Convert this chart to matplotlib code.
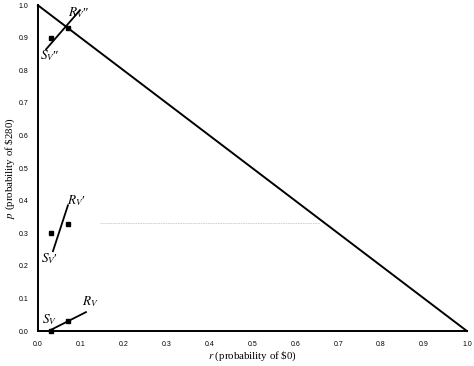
import matplotlib
matplotlib.use("Agg")
import matplotlib.pyplot as plt

plt.rcParams['mathtext.fontset'] = 'stix'

# Data
ticks = [0.0, 0.1, 0.2, 0.3, 0.4, 0.5, 0.6, 0.7, 0.8, 0.9, 1.0]
tick_labels = ["0.0", "0.1", "0.2", "0.3", "0.4", "0.5", "0.6", "0.7", "0.8", "0.9", "1.0"]
hyp_r = [0.0, 1.0]
hyp_p = [1.0, 0.0]
safe_r = [0.03, 0.03, 0.03]
safe_p = [0.0, 0.30, 0.90]
risky_r = [0.07, 0.07, 0.07]
risky_p = [0.03, 0.33, 0.93]
seg_r = [[0.025, 0.112], [0.035, 0.070], [0.019, 0.098]]
seg_p = [[0.0, 0.058], [0.245, 0.386], [0.865, 0.985]]
guide_r = [0.145, 0.657]
guide_p = [0.333, 0.333]
labels = ["$S_V$", "$R_V$", "$S_V$\u2032", "$R_V$\u2032", "$S_V$\u2033", "$R_V$\u2033"]
label_r = [0.026, 0.121, 0.026, 0.089, 0.027, 0.096]
label_p = [0.034, 0.089, 0.222, 0.40, 0.845, 0.979]

fig = plt.figure(figsize=(4.74, 3.66), dpi=100)
ax = fig.add_axes([0.080, 0.0956, 0.905, 0.89])
ax.set_xlim(0, 1)
ax.set_ylim(0, 1)
for s in ['top', 'right']:
    ax.spines[s].set_visible(False)
for s in ['left', 'bottom']:
    ax.spines[s].set_linewidth(1.4)

ax.plot(hyp_r, hyp_p, color='black', lw=1.4, clip_on=False)
ax.plot(guide_r, guide_p, color='#cccccc', lw=0.6, ls=(0, (2, 1)))
for r, p in zip(seg_r, seg_p):
    ax.plot(r, p, color='black', lw=1.3, clip_on=False)
ax.plot(safe_r, safe_p, 's', color='black', ms=3.5, clip_on=False)
ax.plot(risky_r, risky_p, 's', color='black', ms=3.5, clip_on=False)
for t, r, p in zip(labels, label_r, label_p):
    ax.text(r, p, t, fontsize=9.5, family='Liberation Serif', ha='center', va='center')

ax.set_xticks(ticks)
ax.set_xticklabels(tick_labels, fontsize=5, family='Liberation Sans')
ax.set_yticks(ticks)
ax.set_yticklabels(tick_labels, fontsize=5, family='Liberation Sans')
ax.tick_params(length=0, pad=7)
ax.set_xlabel(r"$r$ (probability of \$0)", fontsize=7.8, family='Liberation Serif', labelpad=1)
ax.set_ylabel(r"$p$ (probability of \$280)", fontsize=7.8, family='Liberation Serif', labelpad=1)

fig.savefig("out.png", dpi=100)
